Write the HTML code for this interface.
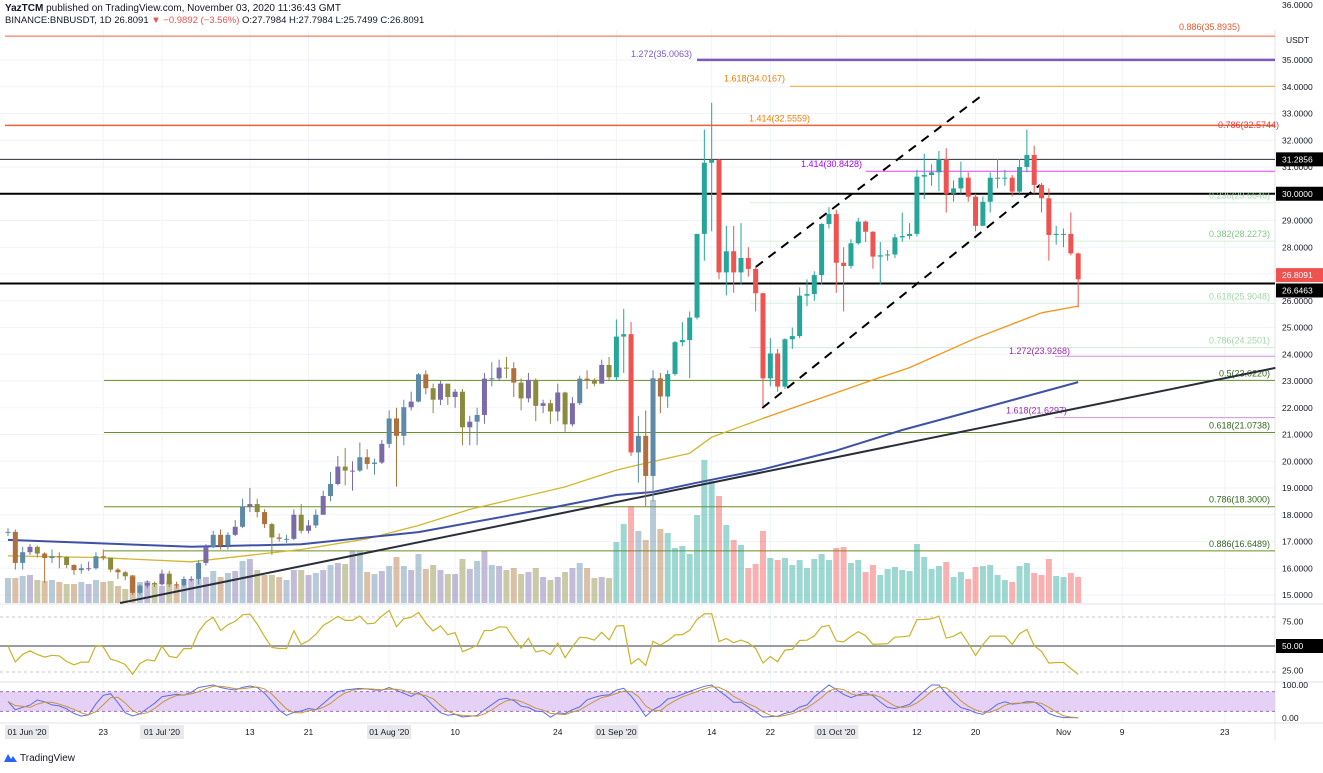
<!DOCTYPE html>
<html><head><meta charset="utf-8"><title>BNBUSDT 1D</title>
<style>
html,body{margin:0;padding:0;background:#fff;}
body{width:1323px;height:768px;overflow:hidden;font-family:"Liberation Sans",sans-serif;}
svg text{font-family:"Liberation Sans",sans-serif;}
</style></head>
<body>
<svg id="chart" width="1323" height="768" viewBox="0 0 1323 768" xmlns="http://www.w3.org/2000/svg">
<rect x="0" y="0" width="1323" height="768" fill="#ffffff"/>
<g id="grid"></g>
<g id="fibs"></g>
<g id="vol"></g>
<g id="mas"></g>
<g id="candles"></g>
<g id="rsi"></g>
<g id="stoch"></g>
<g id="axis"></g>
<g id="taxis"></g>
<text x="5" y="11" font-size="10" fill="#131722" font-weight="bold">YazTCM <tspan font-weight="normal">published on TradingView.com, November 03, 2020 11:36:43 GMT</tspan></text>
<text x="5" y="23" font-size="9.5" fill="#131722">BINANCE:BNBUSDT, 1D  26.8091 <tspan fill="#ef5350">▼ −0.9892 (−3.56%)</tspan> O:27.7984 H:27.7984 L:25.7499 C:26.8091</text>
<g><path d="M4 762 L8 754 L11 759 L13 756 L17 762 Z" fill="#2962ff"/><text x="20" y="761" font-size="10" fill="#131722">TradingView</text></g>
</svg>
<script>
const closes=[17.36,16.2,16.6,16.8,16.55,16.38,16.45,16.42,16.12,15.93,16.0,16.0,16.45,16.4,15.95,15.85,15.7,15.08,15.35,15.45,15.4,15.8,15.4,15.35,15.6,15.6,16.2,16.8,17.25,16.85,17.25,17.55,18.3,18.4,18.1,17.65,17.15,17.1,17.1,18.0,17.4,17.6,18.0,18.7,19.15,19.8,19.65,19.65,20.15,19.9,19.95,20.65,21.6,20.95,22.02,22.23,23.25,22.73,22.3,22.9,22.4,22.6,21.27,21.48,21.73,23.09,23.1,23.5,23.48,22.94,22.35,23.04,22.07,22.17,21.86,22.57,21.38,22.17,23.09,23.04,22.9,23.6,23.14,24.66,24.75,20.33,20.95,19.45,23.1,22.42,23.26,24.45,24.53,25.37,28.5,31.16,31.26,27.06,27.85,27.06,27.6,27.19,26.28,23.1,24.03,22.79,24.56,24.68,26.19,26.25,26.96,28.87,29.24,27.42,27.3,28.15,28.96,28.58,27.65,27.7,27.73,28.37,28.42,28.5,30.64,30.7,30.8,31.29,30.0,30.2,30.6,29.89,28.8,29.7,30.6,30.6,30.6,30.08,31.0,31.45,30.33,29.83,28.46,28.5,28.5,27.77,26.8];
const highs=[17.5,17.45,16.8,16.9,16.85,16.6,16.7,16.6,16.45,16.15,16.15,16.25,16.6,16.7,16.4,16.0,15.9,15.75,15.4,15.55,15.5,15.95,15.9,15.5,15.7,15.7,16.3,16.9,17.4,17.45,17.35,17.8,18.6,19.0,18.6,18.2,17.7,17.3,17.25,18.2,18.4,17.8,18.2,18.9,19.6,20.2,20.5,20.0,20.7,20.45,20.1,20.8,21.9,22.0,22.3,22.6,23.3,23.4,22.9,23.0,22.9,22.7,22.7,21.7,22.0,23.3,23.7,23.8,23.9,23.7,23.1,23.3,23.1,22.3,22.3,22.9,22.6,22.4,23.2,23.4,23.1,23.8,23.9,25.3,25.7,25.2,21.7,21.9,23.4,23.3,23.4,24.5,25.2,25.6,28.5,32.4,33.4,31.3,28.8,28.8,28.9,28.0,27.3,26.3,24.6,24.2,24.6,25.0,26.5,26.8,27.1,28.9,29.5,29.4,28.0,28.3,29.1,29.0,28.6,28.2,27.9,28.5,29.3,28.9,30.9,31.5,31.1,31.6,31.7,30.5,31.2,30.8,30.0,29.9,30.8,31.3,30.9,30.7,31.3,32.4,31.8,30.4,30.2,28.8,28.7,29.3,27.8];
const lows=[17.2,15.95,15.95,16.5,16.4,15.45,16.2,16.0,16.0,15.75,15.8,15.9,15.95,16.3,15.85,15.6,15.55,15.0,15.0,15.25,15.3,15.35,15.3,15.25,15.3,15.5,15.4,16.1,16.75,16.7,16.7,17.2,17.5,18.1,17.9,17.5,16.5,17.0,16.95,17.05,17.3,17.3,17.5,18.0,18.5,19.1,19.1,18.9,19.6,19.7,19.5,19.9,20.5,19.05,20.6,21.9,22.2,22.5,21.8,22.1,22.1,22.0,20.6,20.6,20.6,21.4,22.8,23.0,23.1,22.4,21.9,22.2,21.5,21.8,21.4,21.5,21.1,21.3,22.1,22.7,22.8,22.9,23.0,23.0,23.3,20.2,19.2,18.3,18.5,21.8,22.0,23.2,24.3,23.1,25.3,27.5,28.6,26.8,26.2,26.3,26.6,26.9,25.6,22.05,22.8,22.6,22.7,24.2,24.6,25.8,26.0,26.6,28.7,26.3,25.6,27.2,28.1,28.2,27.2,26.6,27.5,27.6,28.2,28.3,28.4,29.8,30.3,30.1,29.3,29.7,30.0,29.7,28.6,28.8,29.3,30.2,30.3,29.9,30.0,30.8,30.0,29.3,27.5,28.1,28.0,27.7,25.75];
const volumes=[25,25,27,28,23,22,23,21,19,19,21,19,23,21,22,17,14,28,21,22,19,17,22,17,17,23,24,26,32,26,30,32,42,44,33,28,28,26,23,33,33,28,30,33,38,40,39,52,52,31,29,32,37,46,37,33,49,34,38,33,29,29,44,34,42,52,38,37,33,35,29,31,35,26,23,26,31,35,40,35,25,26,25,61,79,97,72,63,103,74,70,55,57,49,88,143,122,107,78,63,58,35,39,72,45,43,45,38,43,35,44,49,43,55,56,40,43,31,38,28,34,36,33,32,59,46,34,37,41,26,31,24,36,37,38,28,23,21,37,40,30,28,44,27,26,30,26];
const ma100Idx=[0,12,25,40,49,56,63,76,83,85,93,96,103,118,123,132,141,146];
const ma100Val=[16.46,16.4,16.24,16.7,17.1,17.6,18.2,19.04,19.67,19.8,20.3,20.9,21.6,23.04,23.5,24.6,25.55,25.8];
const ma200Idx=[0,25,40,56,73,83,88,94,103,113,122,127,146];
const ma200Val=[17.06,16.8,16.9,17.35,18.2,18.74,18.85,19.2,19.7,20.4,21.17,21.54,22.96];
const trendIdx=[15.3,172.9];
const trendVal=[14.7,23.49];
const chanUpIdx=[102,132.6];
const chanUpVal=[27.26,33.62];
const chanLoIdx=[102.9,140.8];
const chanLoVal=[21.99,30.33];
const priceTicks=[35,34,33,32,31,30,29,28,27,26,25,24,23,22,21,20,19,18,17,16,15];
const timeLabels=["23","13","21","10","24","14","22","12","20","Nov","9","23"];
const timeLabelIdx=[13,33,41,61,75,96,104,124,132,144,152,166];
const monthLabels=["01 Jul '20","01 Aug '20","01 Sep '20","01 Oct '20"];
const monthLabelIdx=[21,52,83,113];
const fibPrice=[35.8935,35.0063,34.0167,32.5559,31.2856,30.8428,30.0,29.6646,28.2273,26.6463,25.9048,24.2501,23.9268,23.022,21.6297,21.0738,18.3,16.6489];
const fibLabel=["0.886(35.8935)","1.272(35.0063)","1.618(34.0167)","1.414(32.5559)","","1.414(30.8428)","","0.236(29.6646)","0.382(28.2273)","","0.618(25.9048)","0.786(24.2501)","1.272(23.9268)","0.5(23.0220)","1.618(21.6297)","0.618(21.0738)","0.786(18.3000)","0.886(16.6489)"];

const NS="http://www.w3.org/2000/svg";
const X0=8,DX=7.33;
function xs(i){return X0+i*DX;}
function ys(p){return 60+(35-p)*26.75;}
function vy(v){return 603-v*1.0;}
function ry(v){return 646-(v-50)*0.98;}
function sy(v){return 718-v*0.33;}
function mk(tag,attrs,parent){const e=document.createElementNS(NS,tag);for(const k in attrs)e.setAttribute(k,attrs[k]);parent.appendChild(e);return e;}
const G=id=>document.getElementById(id);
const RIGHT=1275;

const grid=G('grid');
priceTicks.forEach(p=>{const l=mk('line',{x1:0,x2:RIGHT,y1:ys(p),y2:ys(p),stroke:'#f0f3fa','stroke-width':1},grid);

});
timeLabelIdx.concat(monthLabelIdx).forEach(i=>{const l=mk('line',{x1:xs(i),x2:xs(i),y1:30,y2:723,stroke:'#f0f3fa','stroke-width':1},grid);

});
[604,682,723].forEach(y=>{const l=mk('line',{x1:0,x2:1323,y1:y,y2:y,stroke:'#e0e3eb','stroke-width':1},grid);

});
const ax=mk('line',{x1:RIGHT,x2:RIGHT,y1:30,y2:740,stroke:'#e0e3eb'},grid);



const fibStyle=[
 {c:'#f0603a',w:1,x:5,lx:1240,lc:'#e05a30',align:'end',ly:-6},
 {c:'#7e57c2',w:2.5,x:697,lx:692,lc:'#7e57c2',align:'end',ly:-3},
 {c:'#f5a623',w:1,x:790,lx:785,lc:'#f57c00',align:'end',ly:-5},
 {c:'#f0603a',w:1.5,x:5,lx:810,lc:'#f57c00',align:'end',ly:-4},
 {c:'#2a2e39',w:1,x:0,lx:0,lc:'#000',align:'end',ly:0},
 {c:'#e040fb',w:1,x:866,lx:862,lc:'#aa00ff',align:'end',ly:-4},
 {c:'#000000',w:2,x:0,lx:0,lc:'#000',align:'end',ly:0},
 {c:'#d6eed8',w:1,x:750,lx:1270,lc:'#a5d6a7',align:'end',ly:-4},
 {c:'#d6eed8',w:1,x:750,lx:1270,lc:'#81c784',align:'end',ly:-4},
 {c:'#000000',w:2,x:0,lx:0,lc:'#000',align:'end',ly:0},
 {c:'#d6eed8',w:1,x:750,lx:1270,lc:'#a5d6a7',align:'end',ly:-4},
 {c:'#d6eed8',w:1,x:750,lx:1270,lc:'#a5d6a7',align:'end',ly:-4},
 {c:'#ce93d8',w:1,x:1055,lx:1070,lc:'#9c27b0',align:'end',ly:-2},
 {c:'#6b8e23',w:1,x:104,lx:1270,lc:'#33691e',align:'end',ly:-4},
 {c:'#ce93d8',w:1,x:1055,lx:1067,lc:'#9c27b0',align:'end',ly:-4},
 {c:'#6b8e23',w:1,x:104,lx:1270,lc:'#33691e',align:'end',ly:-4},
 {c:'#6b8e23',w:1,x:104,lx:1270,lc:'#33691e',align:'end',ly:-4},
 {c:'#6b8e23',w:1,x:104,lx:1270,lc:'#33691e',align:'end',ly:-4}];
const fibs=G('fibs');
fibPrice.forEach((p,k)=>{const s=fibStyle[k];
 const l=mk('line',{x1:s.x,x2:RIGHT,y1:ys(p),y2:ys(p),stroke:s.c,'stroke-width':s.w},fibs);
 
 
 if(fibLabel[k]){const t=mk('text',{x:s.lx,y:ys(p)+s.ly,'font-size':9,fill:s.lc,'text-anchor':s.align},fibs);t.textContent=fibLabel[k];
 
 }
});

const mutedUp=['#5d8aa8','#7a6aa8'],mutedDn=['#8c8a3c','#b0703c'];
function colorOf(i,up){
 if(i>=90||i===83||i===84||i===85) return up?'#26a69a':'#ef5350';
 return up?mutedUp[i%2]:mutedDn[i%2];
}
const vol=G('vol');
closes.forEach((c,i)=>{const o=i?closes[i-1]:c;const up=c>=o;
 const r=mk('rect',{x:xs(i)-3,y:vy(volumes[i]),width:6,height:603-vy(volumes[i]),fill:colorOf(i,up),opacity:0.45},vol);
 
 
});
const mas=G('mas');
function poly(idx,val,stroke,w,dash,name){
 const pts=idx.map((i,k)=>xs(i).toFixed(1)+','+ys(val[k]).toFixed(1)).join(' ');
 const p=mk('polyline',{points:pts,fill:'none',stroke:stroke,'stroke-width':w,'stroke-linejoin':'round'},mas);
 if(dash)p.setAttribute('stroke-dasharray',dash);
 
 
}
const nEarly=ma100Idx.filter(i=>i<=103).length;
poly(ma100Idx.slice(0,nEarly),ma100Val.slice(0,nEarly),'#d4b62c',1.3,null,'ma-100-line');
poly(ma100Idx.slice(nEarly-1),ma100Val.slice(nEarly-1),'#f7931a',1.3,null,'ma-100-line-recent');
poly(ma200Idx,ma200Val,'#3f51a5',2,null,'ma-200-line');
poly(trendIdx,trendVal,'#2a2e39',2,null,'support-trendline');
poly(chanUpIdx,chanUpVal,'#000',2,'9,7','channel-upper');
poly(chanLoIdx,chanLoVal,'#000',2,'9,7','channel-lower');

const cg=G('candles');
closes.forEach((c,i)=>{const o=i?closes[i-1]:c;const up=c>=o;const col=colorOf(i,up);const x=xs(i);
 const g=mk('g',{},cg);
 
 
 mk('line',{x1:x,x2:x,y1:ys(highs[i]),y2:ys(lows[i]),stroke:col,'stroke-width':1},g);
 const top=ys(Math.max(o,c)),bot=ys(Math.min(o,c));
 mk('rect',{x:x-2.5,y:top,width:5,height:Math.max(1,bot-top),fill:col},g);
});

const rsiV=[];let ag=0.2,al=0.2;const RP=7;
closes.forEach((c,i)=>{if(i){const ch=c-closes[i-1];ag=(ag*(RP-1)+Math.max(ch,0))/RP;al=(al*(RP-1)+Math.max(-ch,0))/RP;}rsiV.push(100-100/(1+ag/al));});
const rg=G('rsi');
[[75,617],[25,672]].forEach(a=>{const l=mk('line',{x1:0,x2:RIGHT,y1:a[1],y2:a[1],stroke:'#c8c8c8','stroke-dasharray':'3,3'},rg);

});
const mid=mk('line',{x1:0,x2:RIGHT,y1:ry(50),y2:ry(50),stroke:'#787b86','stroke-width':1.5},rg);


const rl=mk('polyline',{points:rsiV.map((v,i)=>xs(i).toFixed(1)+','+ry(v).toFixed(1)).join(' '),fill:'none',stroke:'#c8b428','stroke-width':1.2},rg);


const st=rsiV.map((v,i)=>{const w=rsiV.slice(Math.max(0,i-13),i+1);const mn=Math.min(...w),mx=Math.max(...w);return mx>mn?(v-mn)/(mx-mn)*100:50;});
const sma=(a,n)=>a.map((v,i)=>{const w=a.slice(Math.max(0,i-n+1),i+1);return w.reduce((s,x)=>s+x,0)/w.length;});
const K=sma(st,3),D=sma(K,3);
const sg=G('stoch');
const band=mk('rect',{x:0,y:sy(80),width:RIGHT,height:sy(20)-sy(80),fill:'#e1c8f5',opacity:0.85},sg);


[80,20].forEach(v=>{const l=mk('line',{x1:0,x2:RIGHT,y1:sy(v),y2:sy(v),stroke:'#9c6fb0','stroke-dasharray':'3,3'},sg);

});
const kl=mk('polyline',{points:K.map((v,i)=>xs(i).toFixed(1)+','+sy(v).toFixed(1)).join(' '),fill:'none',stroke:'#5b6ee1','stroke-width':1},sg);


const dl=mk('polyline',{points:D.map((v,i)=>xs(i).toFixed(1)+','+sy(v).toFixed(1)).join(' '),fill:'none',stroke:'#c8963c','stroke-width':1},sg);



const axg=G('axis');
priceTicks.forEach(p=>{const t=mk('text',{x:1282,y:ys(p)+3,'font-size':8.5,fill:'#131722'},axg);t.textContent=p.toFixed(4);

});
const t36=mk('text',{x:1282,y:8,'font-size':8.5,fill:'#131722'},axg);t36.textContent='36.0000';


const usdt=mk('text',{x:1286,y:43,'font-size':8.5,fill:'#131722'},axg);usdt.textContent='USDT';


const boxes=[[31.2856,'31.2856','#000'],[30.0,'30.0000','#000'],[26.8091,'26.8091','#ef5350'],[26.6463,'26.6463','#000']];
const boxY={'31.2856':ys(31.2856),'30.0000':ys(30),'26.8091':ys(26.8091)-4,'26.6463':ys(26.6463)+7};
boxes.forEach(b=>{const y=boxY[b[1]];
 const r=mk('rect',{x:1276,y:y-7,width:47,height:14,fill:b[2]},axg);
 
 
 const t=mk('text',{x:1282,y:y+3,'font-size':8.5,fill:'#fff'},axg);t.textContent=b[1];
 
 });
const fr=mk('text',{x:1218,y:ys(32.5744)+3,'font-size':9,fill:'#e53935'},axg);fr.textContent='0.786(32.5744)';


[[75,'75.00'],[25,'25.00']].forEach(a=>{const t=mk('text',{x:1282,y:ry(a[0])+3,'font-size':8.5,fill:'#131722'},axg);t.textContent=a[1];

});
const rb=mk('rect',{x:1276,y:ry(50)-7,width:47,height:14,fill:'#000'},axg);


const rt=mk('text',{x:1282,y:ry(50)+3,'font-size':8.5,fill:'#fff'},axg);rt.textContent='50.00';


[[100,'100.00'],[0,'0.00']].forEach(a=>{const t=mk('text',{x:1282,y:sy(a[0])+3,'font-size':8.5,fill:'#131722'},axg);t.textContent=a[1];

});

const tg=G('taxis');
timeLabels.forEach((s,k)=>{const t=mk('text',{x:xs(timeLabelIdx[k]),y:735,'font-size':8.5,fill:'#131722','text-anchor':'middle'},tg);t.textContent=s;

});
function monthBox(x,s){const r=mk('rect',{x:x-22,y:725,width:44,height:14,fill:'#e9e9ec'},tg);
 
 
 const t=mk('text',{x:x,y:735,'font-size':8.5,fill:'#131722','text-anchor':'middle'},tg);t.textContent=s;
 
 }
monthBox(27,"01 Jun '20");
monthLabels.forEach((s,k)=>monthBox(xs(monthLabelIdx[k]),s));
</script>
</body></html>
